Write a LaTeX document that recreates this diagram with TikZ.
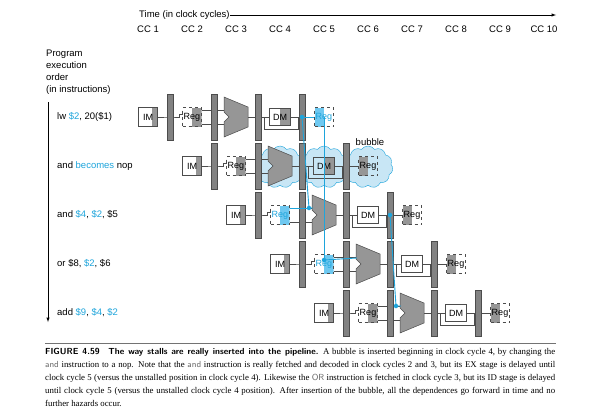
\documentclass[tikz,border=0pt]{standalone}
\usepackage{fontspec}
\setmainfont{Liberation Sans}
\newfontfamily\capserif{Liberation Serif}
\usetikzlibrary{shapes.symbols,calc}
\definecolor{bluet}{RGB}{30,165,220}
\definecolor{blueF}{RGB}{110,200,240}
\definecolor{cloudF}{RGB}{200,230,245}
\definecolor{gray4}{RGB}{150,150,150}
\definecolor{barF}{RGB}{130,130,130}
\tikzset{
 lbl/.style={anchor=west,font=\fontsize{9.5}{11}\selectfont,inner sep=0},
 cc/.style={font=\fontsize{9.5}{11}\selectfont,inner sep=0},
 wire/.style={draw=black!70,line width=0.7},
 bw/.style={draw=bluet,line width=0.9},
 halfR/.style={path picture={\fill[#1] (path picture bounding box.north) rectangle (path picture bounding box.south east);}},
 halfL/.style={path picture={\fill[#1] (path picture bounding box.north west) rectangle (path picture bounding box.south);}},
 imbox/.style={draw=black!70,minimum width=19,minimum height=19,inner sep=0,font=\fontsize{9}{9}\selectfont,
   path picture={\fill[gray4] ($(path picture bounding box.north east)+(-6,0)$) rectangle (path picture bounding box.south east);}},
 regbox/.style={draw=black!70,dashed,minimum width=19,minimum height=19,inner sep=0,font=\fontsize{9}{9}\selectfont},
 dmbox/.style={draw=black!70,minimum width=21,minimum height=17,inner sep=0,font=\fontsize{9}{9}\selectfont},
 barbox/.style={draw=black!70,fill=barF,minimum width=5.5,minimum height=46,inner sep=0,line width=0.5},
 alu/.style={draw=black!70,fill=gray4,line width=0.5},
 dot/.style={circle,fill=bluet,inner sep=0,minimum size=4.5},
 cloudy/.style={cloud,cloud puffs=11,cloud puff arc=110,aspect=1.15,minimum width=50,minimum height=42,fill=cloudF,draw=bluet,line width=0.4,inner sep=0}
}
\begin{document}
\begin{tikzpicture}[x=1pt,y=-1pt]
\useasboundingbox[fill=white] (0,0) rectangle (600,415);
% time axis
\node[cc,anchor=west] (time) at (139,15) {Time (in clock cycles)};
\coordinate (tend) at (556,15);
\draw[-latex,line width=0.5] (time.east) -- (tend);
\foreach \i in {1,...,10}{
  \node[cc] (cc\i) at ({148+44*(\i-1)},29) {CC \i};
}
% program order
\node[anchor=north west,align=left,font=\fontsize{9.5}{12}\selectfont,inner sep=0] (prog) at (46,50) {Program\\execution\\order\\(in instructions)};
\coordinate (ordtop) at (48,102);
\coordinate (ordbot) at (48,322);
\draw[-latex,line width=0.5] (ordtop) -- (ordbot);
\node[lbl] (l1) at (57,117) {lw \textcolor{bluet}{\$2}, 20(\$1)};
\node[lbl] (l2) at (57,166) {and \textcolor{bluet}{becomes} nop};
\node[lbl] (l3) at (57,215) {and \textcolor{bluet}{\$4}, \textcolor{bluet}{\$2}, \$5};
\node[lbl] (l4) at (57,264) {or \$8, \textcolor{bluet}{\$2}, \$6};
\node[lbl] (l5) at (57,313) {add \textcolor{bluet}{\$9}, \textcolor{bluet}{\$4}, \textcolor{bluet}{\$2}};
% clouds
\node[cloudy] (c1) at (280,167) {};
\node[cloudy] (c2) at (324,167) {};
\node[cloudy] (c3) at (368,167) {};
\node[cc] (bub) at (370,142) {bubble};
% rows
\foreach \r/\idc/\idt/\dmc/\wbc/\wbt in {1/gray4/black/gray4/blueF/bluet, 2/gray4/black/gray4/gray4/black, 3/blueF/bluet/white/gray4/black, 4/blueF/bluet/white/gray4/black, 5/gray4/black/white/gray4/black}{
 \pgfmathsetmacro\X{148+44*(\r-1)}
 \pgfmathsetmacro\Y{117+49*(\r-1)}
 \node[imbox] (im\r) at (\X,\Y) {IM};
 \node[regbox,halfR=\idc,text=\idt] (id\r) at ({\X+44},\Y) {Reg};
 \node[dmbox,halfR=\dmc] (dm\r) at ({\X+132},\Y) {DM};
 \node[regbox,halfL=\wbc,text=\wbt] (wb\r) at ({\X+176},\Y) {Reg};
 \draw[wire] (im\r.east) -- ({\X+22},\Y) -- ({\X+31},\Y) -- ({\X+31},{\Y-3}) -- ({\X+34.5},{\Y-3});
 \draw[wire] ({\X+53.5},{\Y-7}) -- ({\X+76},{\Y-7});
 \draw[wire] ({\X+53.5},{\Y+7}) -- ({\X+76},{\Y+7});
 \draw[wire] ({\X+100},\Y) -- (dm\r.west);
 \draw[wire] (dm\r.east) -- (wb\r.west);
 \draw[wire] ({\X+116},\Y) -- ({\X+116},{\Y+12}) -- ({\X+150},{\Y+12}) -- ({\X+150},\Y);
 \draw[alu,shift={({\X+88},\Y)}] (-12,-20) -- (12,-10) -- (12,10) -- (-12,20) -- (-12,5) -- (-7,0) -- (-12,-5) -- cycle;
 \foreach \k in {1,...,4}{
   \node[barbox] (bar\r\k) at ({\X+44*\k-22},\Y) {};
 }
}
% forwarding
\coordinate (d4) at ($(id4.center)+(0,-4)$);
\coordinate (d3) at (309,208);
\coordinate (a3) at (313,208);
\coordinate (d5) at (396,306);
\coordinate (a5) at (401,306);
\coordinate (a4) at (357,258);
\draw[bw] (bar14.center) -- (wb1.west);
\draw[bw] (wb1.center) -- (d4);
\draw[bw] (bar14.center) -- (d3) -- (a3);
\draw[bw] (id3.east |- d3) -- (d3);
\draw[bw] (d4) -- (a4);
\draw[bw] (bar34.center) -- (d5) -- (a5);
\node[dot] (p1) at (bar14.center) {};
\node[dot] (p2) at (d3) {};
\node[dot] (p3) at (d4) {};
\node[dot] (p4) at (bar34.center) {};
\node[dot] (p5) at (d5) {};
% caption
\coordinate (rl) at (45,343);
\coordinate (rr) at (556,343);
\draw[black!55,line width=0.8] (rl) -- (rr);
\node[anchor=north west,text width=510,align=justify,inner sep=0,font=\capserif\fontsize{8.8}{13}\selectfont] (cap) at (45,348)
{{\sffamily\bfseries FIGURE 4.59\quad The way stalls are really inserted into the pipeline.} A bubble is inserted beginning in clock cycle 4, by changing the\linebreak
{\sffamily\color{black!60}and} instruction to a nop. Note that the {\sffamily\color{black!60}and} instruction is really fetched and decoded in clock cycles 2 and 3, but its EX stage is delayed until\linebreak
clock cycle 5 (versus the unstalled position in clock cycle 4). Likewise the {\sffamily\color{black!60}OR} instruction is fetched in clock cycle 3, but its ID stage is delayed\linebreak
until clock cycle 5 (versus the unstalled clock cycle 4 position). After insertion of the bubble, all the dependences go forward in time and no\linebreak
further hazards occur.};
\end{tikzpicture}
\end{document}
